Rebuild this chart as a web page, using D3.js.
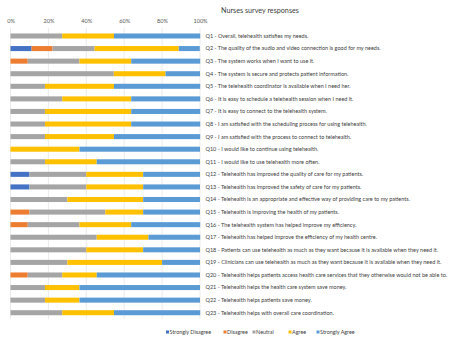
<!DOCTYPE html>
<html>
<head>
<meta charset="utf-8">
<script src="https://cdn.jsdelivr.net/npm/d3@7"></script>
<style>
  body { margin: 0; background: #fff; }
  text { font-family: Lato, "Open Sans", sans-serif; }
</style>
</head>
<body>
<div id="chart"></div>
<script>
// Survey questions, top to bottom
const questions = [
  'Q1 - Overall, telehealth satisfies my needs.',
  'Q2 - The quality of the audio and video connection is good for my needs.',
  'Q3 - The system works when I want to use it.',
  'Q4 - The system is secure and protects patient information.',
  'Q5 - The telehealth coordinator is available when I need her.',
  'Q6 - It is easy to schedule a telehealth session when I need it.',
  'Q7 - It is easy to connect to the telehealth system.',
  'Q8 - I am satisfied with the scheduling process for using telehealth.',
  'Q9 - I am satisfied with the process to connect to telehealth.',
  'Q10 - I would like to continue using telehealth.',
  'Q11 - I would like to use telehealth more often.',
  'Q12 - Telehealth has improved the quality of care for my patients.',
  'Q13 - Telehealth has improved the safety of care for my patients.',
  'Q14 - Telehealth is an appropriate and effective way of providing care to my patients.',
  'Q15 - Telehealth is improving the health of my patients.',
  'Q16 - The telehealth system has helped improve my efficiency.',
  'Q17 - Telehealth has helped improve the efficiency of my health centre.',
  'Q18 - Patients can use telehealth as much as they want because it is available when they need it.',
  'Q19 - Clinicians can use telehealth as much as they want because it is available when they need it.',
  'Q20 - Telehealth helps patients access health care services that they otherwise would not be able to.',
  'Q21 - Telehealth helps the health care system save money.',
  'Q22 - Telehealth helps patients save money.',
  'Q23 - Telehealth helps with overall care coordination.'
];

const responses = ['Strongly Disagree', 'Disagree', 'Neutral', 'Agree', 'Strongly Agree'];

// Percent of responses per question
const stronglyDisagree = [0, 11.1, 0, 0, 0, 0, 0, 0, 0, 0, 0, 10, 10, 0, 0, 0, 0, 0, 0, 0, 0, 0, 0];
const disagree         = [0, 11.1, 9.1, 0, 0, 0, 0, 0, 0, 0, 0, 0, 0, 0, 10, 9.1, 0, 0, 0, 9.1, 0, 0, 0];
const neutral          = [27.3, 22.2, 27.3, 54.5, 18.2, 27.3, 18.2, 18.2, 18.2, 0, 18.2, 30, 30, 30, 40, 27.3, 45.5, 40, 30, 18.2, 18.2, 18.2, 27.3];
const agree            = [27.3, 44.4, 27.3, 27.3, 36.4, 36.4, 45.5, 45.5, 36.4, 36.4, 27.3, 30, 30, 40, 20, 27.3, 27.3, 30, 50, 18.2, 18.2, 18.2, 27.3];
const stronglyAgree    = [45.5, 11.1, 36.4, 18.2, 45.5, 36.4, 36.4, 36.4, 45.5, 63.6, 54.5, 30, 30, 30, 30, 36.4, 27.3, 30, 20, 54.5, 63.6, 63.6, 45.5];

const colors = ['#4472C4', '#ED7D31', '#A5A5A5', '#FFC000', '#5B9BD5'];
const xTicks = [0, 20, 40, 60, 80, 100];

const width = 474, height = 340;
const margin = { top: 29.7, left: 10.5, plotRight: 200, bottom: 319 };

const rows = questions.map((q, i) => ({
  q,
  'Strongly Disagree': stronglyDisagree[i],
  'Disagree': disagree[i],
  'Neutral': neutral[i],
  'Agree': agree[i],
  'Strongly Agree': stronglyAgree[i]
}));

const series = d3.stack().keys(responses)(rows);

const x = d3.scaleLinear().domain([0, 100]).range([margin.left, margin.plotRight]);
const y = d3.scaleBand().domain(questions).range([margin.top, margin.bottom]).paddingInner(0.6).paddingOuter(0.3);
const color = d3.scaleOrdinal().domain(responses).range(colors);

const svg = d3.select('#chart').append('svg').attr('width', width).attr('height', height);

// title
svg.append('text')
  .attr('x', 260).attr('y', 12.5)
  .attr('text-anchor', 'middle')
  .attr('font-size', 7.2)
  .attr('fill', '#404040')
  .text('Nurses survey responses');

// vertical gridlines
svg.append('g')
  .selectAll('line')
  .data(xTicks)
  .join('line')
  .attr('x1', (d) => x(d)).attr('x2', (d) => x(d))
  .attr('y1', 27.5).attr('y2', margin.bottom)
  .attr('stroke', '#e3e3e3')
  .attr('stroke-width', 0.7);

// percent labels along the top
const xAxis = svg.append('g')
  .attr('transform', `translate(0,${25.5})`)
  .call(d3.axisTop(x).tickValues(xTicks).tickFormat((d) => `${d}%`).tickSize(0));
xAxis.select('.domain').remove();
xAxis.selectAll('text')
  .attr('font-family', 'Lato, sans-serif')
  .attr('font-size', 5.6)
  .attr('fill', '#595959');

// stacked bars
svg.append('g')
  .selectAll('g')
  .data(series)
  .join('g')
  .attr('fill', (s) => color(s.key))
  .selectAll('rect')
  .data((s) => s)
  .join('rect')
  .attr('x', (d) => x(d[0]))
  .attr('width', (d) => x(d[1]) - x(d[0]))
  .attr('y', (d) => y(d.data.q))
  .attr('height', y.bandwidth());

// question labels to the right of the bars
svg.append('g')
  .selectAll('text')
  .data(questions)
  .join('text')
  .attr('x', 205.5)
  .attr('y', (d) => y(d) + y.bandwidth() / 2)
  .attr('dy', '0.35em')
  .attr('font-size', 5.5)
  .attr('fill', '#404040')
  .text((d) => d);

// legend
const legendX = [166, 223.5, 252.5, 288.5, 316.5];
const legend = svg.append('g')
  .selectAll('g')
  .data(responses)
  .join('g')
  .attr('transform', (d, i) => `translate(${legendX[i]},332)`);
legend.append('rect')
  .attr('x', 0).attr('y', -1.5)
  .attr('width', 3).attr('height', 3)
  .attr('fill', (d) => color(d));
legend.append('text')
  .attr('x', 3.6)
  .attr('dy', '0.35em')
  .attr('font-size', 5.4)
  .attr('fill', '#404040')
  .text((d) => d);
</script>
</body>
</html>
